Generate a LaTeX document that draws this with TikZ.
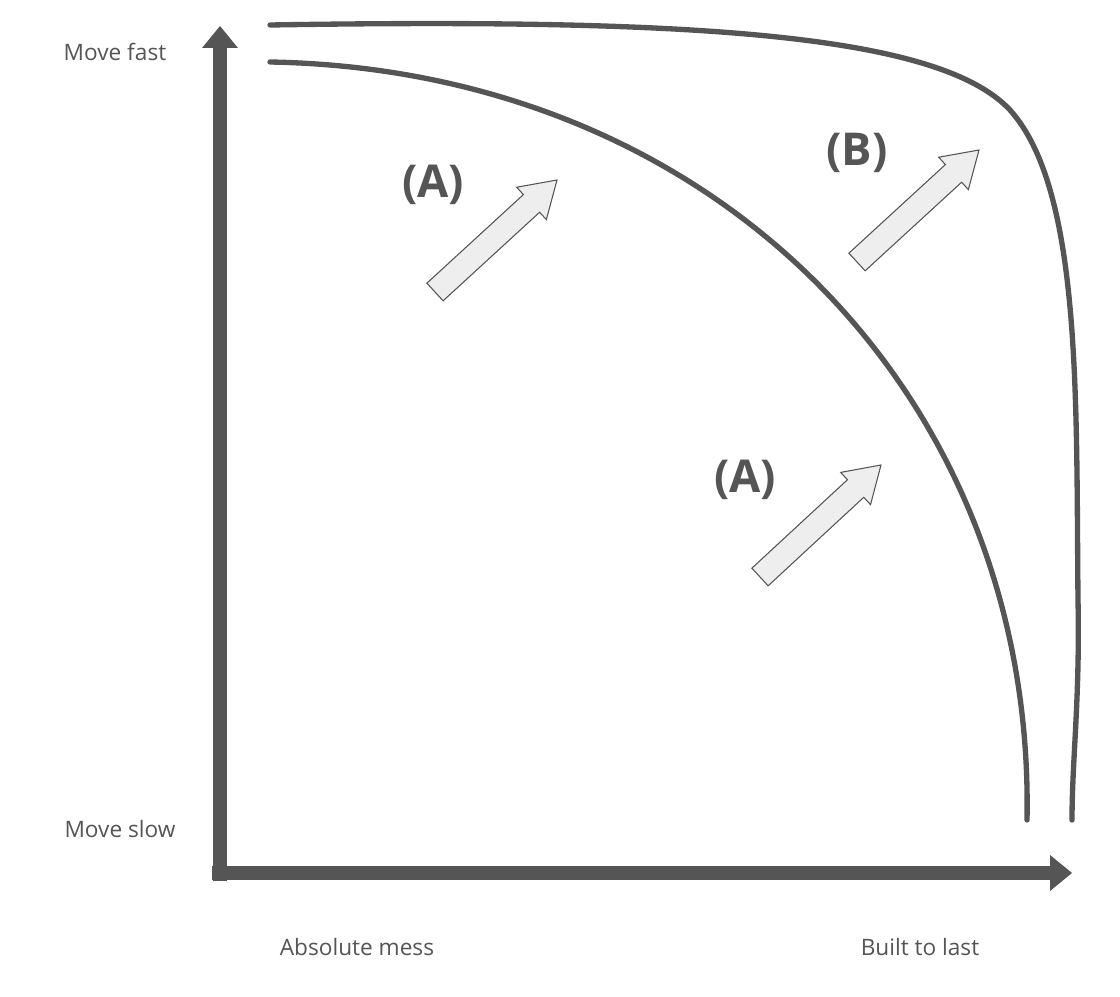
\documentclass[tikz,border=0pt]{standalone}
\usepackage{fontspec}
\setmainfont{Open Sans}
\usetikzlibrary{calc}
\definecolor{ink}{HTML}{555555}
\definecolor{pale}{HTML}{EEEEEE}
\tikzset{lbl/.style={text=ink,font=\fontsize{17}{20}\selectfont,inner sep=0pt},
 big/.style={text=ink,font=\fontsize{34}{38}\selectfont\bfseries,inner sep=0pt},
 curve/.style={draw=ink,line width=4pt,line cap=round}}
\newcommand{\blockarrow}[2]{%
 \coordinate (h) at ($(#2)!26pt!(#1)$);
 \draw[fill=pale,draw=ink,line width=0.8pt,line join=miter]
  ($(#1)!9pt!90:(#2)$) -- ($(h)!9pt!-90:(#1)$) -- ($(h)!16.5pt!-90:(#1)$) -- (#2)
  -- ($(h)!16.5pt!90:(#1)$) -- ($(h)!9pt!90:(#1)$) -- ($(#1)!9pt!-90:(#2)$) -- cycle;}
\begin{document}
\begin{tikzpicture}[x=0.0264cm,y=-0.0264cm]
\useasboundingbox (0,0) rectangle (1120,997);
\fill[white] (0,0) rectangle (1120,997);
% axes
\coordinate (o) at (220,873);
\coordinate (yt) at (220,48);
\coordinate (xt) at (1050,873);
\draw[ink,line width=10.5pt] (220,881) -- (yt);
\draw[ink,line width=10.5pt] (212,873) -- (xt);
\fill[ink] (202,48) -- (220,26) -- (238,48) -- cycle;
\fill[ink] (1050,855) -- (1072,873) -- (1050,891) -- cycle;
% curves
\draw[curve] (270,62) .. controls (720,70) and (1035,400) .. (1027,820);
\draw[curve] (270,25) .. controls (700,18) and (940,35) .. (1010,110)
  .. controls (1082,190) and (1076,400) .. (1078,600)
  .. controls (1080,700) and (1072,760) .. (1072,820);
% block arrows
\coordinate (a1) at (435,292); \coordinate (b1) at (557,180);
\coordinate (a2) at (760,577); \coordinate (b2) at (881,465);
\coordinate (a3) at (857,262); \coordinate (b3) at (979,150);
\blockarrow{a1}{b1}
\blockarrow{a2}{b2}
\blockarrow{a3}{b3}
% labels
\node[big] (la1) at (433,185) {(A)};
\node[big] (la2) at (745,480) {(A)};
\node[big] (lb) at (857,153) {(B)};
\node[lbl] (mf) at (115,52) {Move fast};
\node[lbl] (ms) at (120,829) {Move slow};
\node[lbl] (am) at (357,947) {Absolute mess};
\node[lbl] (bl) at (920,947) {Built to last};
\end{tikzpicture}
\end{document}
